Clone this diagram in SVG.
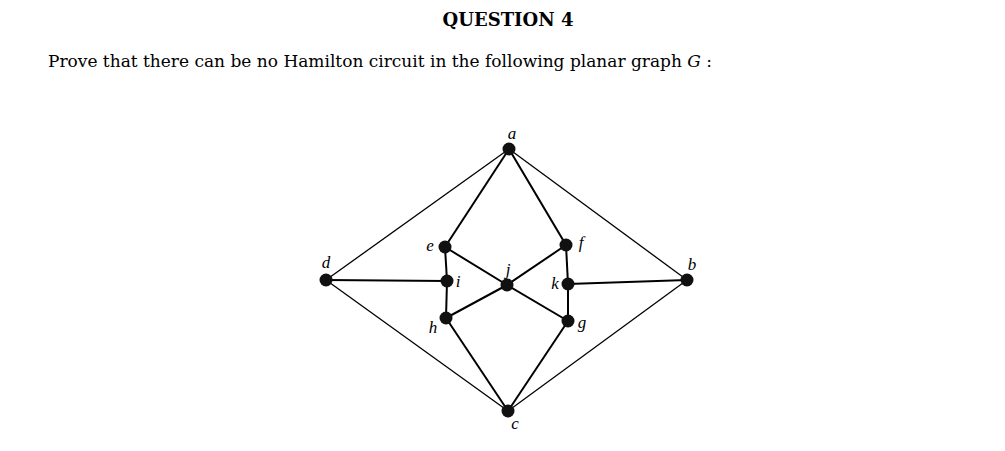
<svg xmlns="http://www.w3.org/2000/svg" width="1005" height="451" viewBox="0 0 1005 451">
<style>
.t{font-family:"DejaVu Serif","Liberation Serif",serif;fill:#000}
.l{font-family:"Liberation Serif",serif;font-style:italic;font-size:17px;fill:#000}
.e{stroke:#000;fill:none}
.thin{stroke-width:1.3}
.thick{stroke-width:2}
.n{fill:#111}
</style>
<rect width="1005" height="451" fill="#fff"/>
<text class="t" x="508" y="26" font-size="18" font-weight="bold" text-anchor="middle">QUESTION 4</text>
<text class="t" x="48" y="67" font-size="17">Prove that there can be no Hamilton circuit in the following planar graph <tspan font-style="italic">G</tspan> :</text>
<g id="edges" class="e">
<line class="thin" x1="509" y1="149" x2="326" y2="280"/>
<line class="thin" x1="509" y1="149" x2="687" y2="280"/>
<line class="thin" x1="326" y1="280" x2="508" y2="411"/>
<line class="thin" x1="687" y1="280" x2="508" y2="411"/>
<line class="thick" x1="509" y1="149" x2="445" y2="247"/>
<line class="thick" x1="509" y1="149" x2="566" y2="245"/>
<line class="thick" x1="326" y1="280" x2="447" y2="281"/>
<line class="thick" x1="687" y1="280" x2="568" y2="284"/>
<line class="thick" x1="445" y1="247" x2="447" y2="281"/>
<line class="thick" x1="447" y1="281" x2="446" y2="318"/>
<line class="thick" x1="566" y1="245" x2="568" y2="284"/>
<line class="thick" x1="568" y1="284" x2="568" y2="321"/>
<line class="thick" x1="445" y1="247" x2="507" y2="285"/>
<line class="thick" x1="566" y1="245" x2="507" y2="285"/>
<line class="thick" x1="446" y1="318" x2="507" y2="285"/>
<line class="thick" x1="568" y1="321" x2="507" y2="285"/>
<line class="thick" x1="446" y1="318" x2="508" y2="411"/>
<line class="thick" x1="568" y1="321" x2="508" y2="411"/>
</g>
<g id="a"><circle class="n" cx="509" cy="149" r="6.5"/><text class="l" x="512" y="139" text-anchor="middle">a</text></g>
<g id="b"><circle class="n" cx="687" cy="280" r="6.5"/><text class="l" x="692" y="270" text-anchor="middle">b</text></g>
<g id="c"><circle class="n" cx="508" cy="411" r="6.5"/><text class="l" x="515" y="429" text-anchor="middle">c</text></g>
<g id="d"><circle class="n" cx="326" cy="280" r="6.5"/><text class="l" x="326" y="268" text-anchor="middle">d</text></g>
<g id="e"><circle class="n" cx="445" cy="247" r="6.5"/><text class="l" x="430" y="251" text-anchor="middle">e</text></g>
<g id="f"><circle class="n" cx="566" cy="245" r="6.5"/><text class="l" x="581" y="248" text-anchor="middle">f</text></g>
<g id="g"><circle class="n" cx="568" cy="321" r="6.5"/><text class="l" x="582" y="328" text-anchor="middle">g</text></g>
<g id="h"><circle class="n" cx="446" cy="318" r="6.5"/><text class="l" x="433" y="333" text-anchor="middle">h</text></g>
<g id="i"><circle class="n" cx="447" cy="281" r="6.5"/><text class="l" x="458" y="287" text-anchor="middle">i</text></g>
<g id="j"><circle class="n" cx="507" cy="285" r="6.5"/><text class="l" x="508" y="275" text-anchor="middle">j</text></g>
<g id="k"><circle class="n" cx="568" cy="284" r="6.5"/><text class="l" x="555" y="289" text-anchor="middle">k</text></g>
</svg>
